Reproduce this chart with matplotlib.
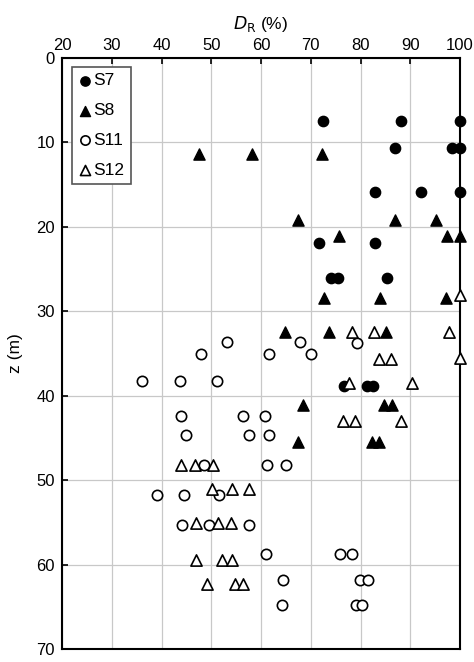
import matplotlib.pyplot as plt
import numpy as np

plt.rcParams['font.family'] = ['Liberation Sans', 'DejaVu Sans']

# S7 (filled circles)
s7_dr = [72.5, 88.2, 100, 86.9, 98.3, 100, 82.9, 92.2, 100, 71.6, 82.9, 74.1, 75.5, 85.4,
         76.6, 81.4, 82.5]
s7_z = [7.5, 7.5, 7.5, 10.7, 10.7, 10.7, 15.9, 15.9, 15.9, 21.9, 21.9, 26.0, 26.0, 26.0,
        38.9, 38.9, 38.9]

# S8 (filled triangles)
s8_dr = [47.6, 58.1, 72.2, 67.5, 87.0, 95.1, 75.7, 97.3, 100, 72.7, 83.9, 97.1,
         64.9, 73.6, 85.1, 68.5, 84.7, 86.4, 67.4, 82.4, 83.7]
s8_z = [11.4, 11.4, 11.4, 19.2, 19.2, 19.2, 21.1, 21.1, 21.1, 28.4, 28.4, 28.4,
        32.5, 32.5, 32.5, 41.1, 41.1, 41.1, 45.5, 45.5, 45.5]

# S11 (open circles)
s11_dr = [53.2, 67.9, 79.3, 47.9, 61.6, 70.1, 36.1, 43.7, 51.2, 44.0, 56.3, 60.9,
          45.0, 57.6, 61.6, 48.5, 61.3, 65.1, 39.1, 44.5, 51.6, 44.2, 49.6, 57.5,
          61.1, 75.9, 78.2, 64.4, 79.8, 81.6, 64.2, 79.0, 80.2]
s11_z = [33.6, 33.6, 33.8, 35.0, 35.0, 35.0, 38.2, 38.2, 38.2, 42.4, 42.4, 42.4,
         44.7, 44.7, 44.7, 48.2, 48.2, 48.2, 51.7, 51.7, 51.8, 55.3, 55.3, 55.3,
         58.8, 58.8, 58.8, 61.8, 61.8, 61.8, 64.8, 64.8, 64.8]

# S12 (open triangles)
s12_dr = [100, 78.2, 82.8, 97.7, 83.8, 86.2, 100, 77.6, 90.4, 76.4, 78.9, 88.1,
          43.9, 46.8, 50.4, 50.2, 54.2, 57.6, 47.0, 51.4, 53.9, 47.0, 52.2, 54.1,
          49.2, 54.7, 56.3]
s12_z = [28.1, 32.5, 32.5, 32.5, 35.6, 35.6, 35.5, 38.5, 38.5, 43.0, 43.0, 43.0,
         48.2, 48.2, 48.2, 51.1, 51.1, 51.1, 55.1, 55.1, 55.1, 59.5, 59.5, 59.5,
         62.3, 62.3, 62.3]

fig = plt.figure(figsize=(4.74, 6.62), dpi=100)
ax = fig.add_axes([0.1308, 0.0196, 0.8397, 0.8927])

ax.grid(True, color='#c8c8c8', linewidth=0.9)
ax.set_axisbelow(True)

ms = 55
ax.scatter(s7_dr, s7_z, s=ms, marker='o', c='black', label='S7', clip_on=False, zorder=3)
ax.scatter(s8_dr, s8_z, s=ms + 10, marker='^', c='black', label='S8', clip_on=False, zorder=3)
ax.scatter(s11_dr, s11_z, s=ms, marker='o', facecolors='white', edgecolors='black',
           linewidths=1.2, label='S11', clip_on=False, zorder=3)
ax.scatter(s12_dr, s12_z, s=ms + 10, marker='^', facecolors='white', edgecolors='black',
           linewidths=1.2, label='S12', clip_on=False, zorder=3)

ax.set_xlim(20, 100)
ax.set_ylim(70, 0)
ax.set_xticks(np.arange(20, 101, 10))
ax.set_yticks(np.arange(0, 71, 10))
ax.xaxis.tick_top()
ax.xaxis.set_label_position('top')
ax.tick_params(direction='in', labelsize=12, length=4, width=1.2, pad=5)
ax.tick_params(axis='x', which='both', top=True, bottom=False, pad=4)
for sp in ax.spines.values():
    sp.set_linewidth(1.5)

ax.set_xlabel(r'$D_{\mathrm{R}}$ (%)', fontsize=12.5, labelpad=6)
ax.set_ylabel('z (m)', fontsize=12.5, labelpad=10)

leg = ax.legend(loc='upper left', fontsize=12.5, handletextpad=0.1, borderpad=0.35,
                labelspacing=0.85, handlelength=0.8, markerscale=0.9, fancybox=False,
                framealpha=1, bbox_to_anchor=(0.025, 0.985), borderaxespad=0)
leg.get_frame().set_edgecolor('#555555')
leg.get_frame().set_linewidth(1.2)

fig.savefig('out.png', dpi=100)
